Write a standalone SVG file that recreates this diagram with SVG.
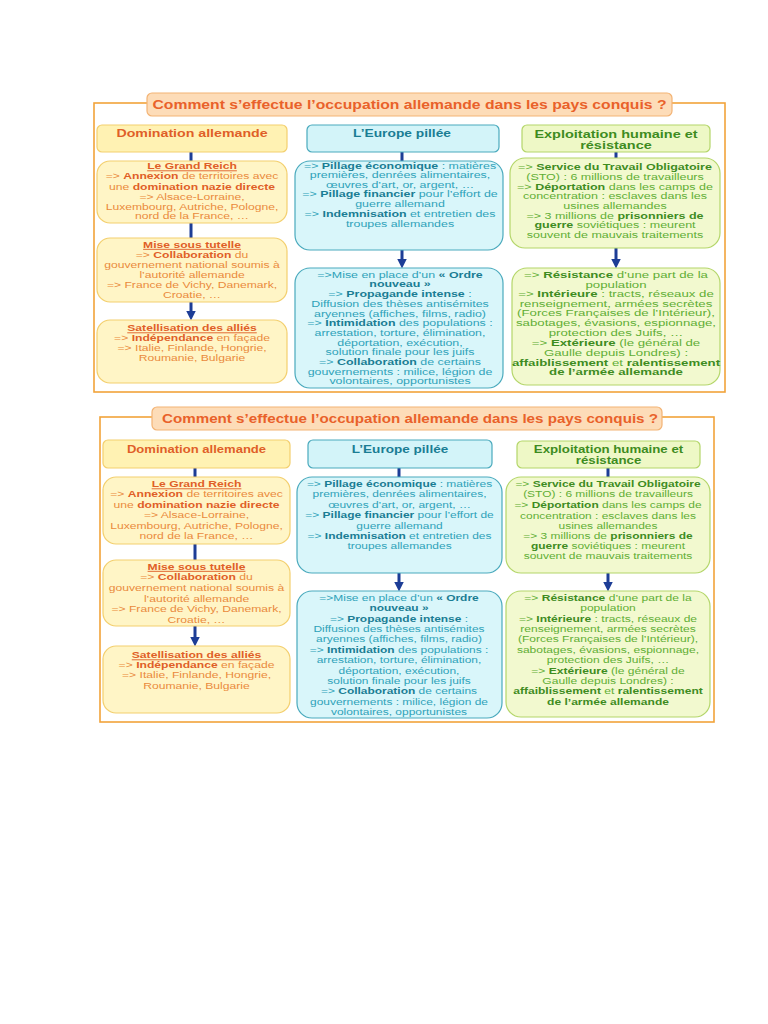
<svg xmlns="http://www.w3.org/2000/svg" width="768" height="1024" viewBox="0 0 768 1024">
<defs>
<marker id="ah" viewBox="0 0 10 10" refX="0.5" refY="5" markerWidth="10" markerHeight="10" markerUnits="userSpaceOnUse" orient="auto">
<path d="M0,0 L10,5 L0,10 z" fill="#1d3d96"/>
</marker>
<style>
text{font-family:"Liberation Sans",Arial,Helvetica,sans-serif;text-anchor:middle}
.title{font-size:12.5px;font-weight:bold;fill:#e9612a}
.hd{font-size:10.2px;font-weight:bold}
.bd{font-size:9.2px}
.b{font-weight:bold}
.u{text-decoration:underline}
.frame{fill:none;stroke:#f2a33a;stroke-width:1.6}
.tbox{fill:#fddcb8;stroke:#f3b374;stroke-width:1.2}
.yh{fill:#fff2b3;stroke:#f3cf6e;stroke-width:1.2}
.yc{fill:#fff5c6;stroke:#f3cf6e;stroke-width:1.2}
.ch{fill:#d3f4f9;stroke:#4aaabd;stroke-width:1.2}
.cc{fill:#d9f6fa;stroke:#4aaabd;stroke-width:1.2}
.gh{fill:#eef8c6;stroke:#b4d66a;stroke-width:1.2}
.gc{fill:#f2f9cf;stroke:#b4d66a;stroke-width:1.2}
.yt{fill:#ea8a3c}.yb{fill:#df5f28}
.ct{fill:#2ea2b9}.cb{fill:#1a7d94}
.gt{fill:#5fae34}.gb{fill:#3e8c1f}
.ln{stroke:#1d3d96;stroke-width:3;fill:none}
.ar{stroke:#1d3d96;stroke-width:3;fill:none;marker-end:url(#ah)}
</style>
</defs>
<rect width="768" height="1024" fill="#ffffff"/>

<!-- ===================== TOP DIAGRAM ===================== -->
<g id="top">
<rect class="frame" x="94" y="103" width="631" height="289"/>
<g id="t-title">
<rect class="tbox" x="147" y="93" width="525" height="23" rx="5"/>
<text class="title" x="409.5" y="109" textLength="514" lengthAdjust="spacingAndGlyphs">Comment s’effectue l’occupation allemande dans les pays conquis ?</text>
</g>
<g id="t-connectors">
<line class="ln" x1="191" y1="152" x2="191" y2="161"/>
<line class="ln" x1="191" y1="223" x2="191" y2="238"/>
<line class="ar" x1="191" y1="302" x2="191" y2="311"/>
<line class="ln" x1="402" y1="152" x2="402" y2="161"/>
<line class="ar" x1="402" y1="250" x2="402" y2="259"/>
<line class="ln" x1="616" y1="152" x2="616" y2="158"/>
<line class="ar" x1="616" y1="248" x2="616" y2="259"/>
</g>
<g id="t-dom">
<rect class="yh" x="97" y="125" width="190" height="27" rx="5"/>
<text class="hd yb" transform="translate(192,137) scale(1.39,1)" x="0" y="0">Domination allemande</text>
</g>
<g id="t-reich">
<rect class="yc" x="97" y="161" width="190" height="62" rx="13"/>
<g class="bd yt" transform="translate(192,0) scale(1.32,1)">
<text x="0" y="169.5" class="b u yb">Le Grand Reich</text>
<text x="0" y="179.5">=&gt; <tspan class="b yb">Annexion</tspan> de territoires avec</text>
<text x="0" y="190">une <tspan class="b yb">domination nazie directe</tspan></text>
<text x="0" y="200">=&gt; Alsace-Lorraine,</text>
<text x="0" y="210">Luxembourg, Autriche, Pologne,</text>
<text x="0" y="219.5">nord de la France, …</text>
</g>
</g>
<g id="t-tutelle">
<rect class="yc" x="97" y="238" width="190" height="64" rx="13"/>
<g class="bd yt" transform="translate(192,0) scale(1.32,1)">
<text x="0" y="248" class="b u yb">Mise sous tutelle</text>
<text x="0" y="258">=&gt; <tspan class="b yb">Collaboration</tspan> du</text>
<text x="0" y="268.5">gouvernement national soumis à</text>
<text x="0" y="278">l’autorité allemande</text>
<text x="0" y="288">=&gt; France de Vichy, Danemark,</text>
<text x="0" y="298">Croatie, …</text>
</g>
</g>
<g id="t-satel">
<rect class="yc" x="97" y="320" width="190" height="63" rx="13"/>
<g class="bd yt" transform="translate(192,0) scale(1.32,1)">
<text x="0" y="331.5" class="b u yb">Satellisation des alliés</text>
<text x="0" y="341.5">=&gt; <tspan class="b yb">Indépendance</tspan> en façade</text>
<text x="0" y="351.5">=&gt; Italie, Finlande, Hongrie,</text>
<text x="0" y="361">Roumanie, Bulgarie</text>
</g>
</g>
<g id="t-europe">
<rect class="ch" x="307" y="125" width="192" height="27" rx="5"/>
<text class="hd cb" transform="translate(402,137) scale(1.35,1)" x="0" y="0">L’Europe pillée</text>
</g>
<g id="t-pillage">
<rect class="cc" x="295" y="161" width="208" height="89" rx="15"/>
<g class="bd ct" transform="translate(400,0) scale(1.35,1)">
<text x="0" y="169">=&gt; <tspan class="b cb">Pillage économique</tspan> : matières</text>
<text x="0" y="178.5">premières, denrées alimentaires,</text>
<text x="0" y="188">œuvres d’art, or, argent, …</text>
<text x="0" y="197.5">=&gt; <tspan class="b cb">Pillage financier</tspan> pour l’effort de</text>
<text x="0" y="207.5">guerre allemand</text>
<text x="0" y="217">=&gt; <tspan class="b cb">Indemnisation</tspan> et entretien des</text>
<text x="0" y="227">troupes allemandes</text>
</g>
</g>
<g id="t-ordre">
<rect class="cc" x="295" y="268" width="208" height="120" rx="15"/>
<g class="bd ct" transform="translate(400,0) scale(1.35,1)">
<text x="0" y="278">=&gt;Mise en place d’un <tspan class="b cb">« Ordre</tspan></text>
<text x="0" y="287.5" class="b cb">nouveau »</text>
<text x="0" y="297.5">=&gt; <tspan class="b cb">Propagande intense</tspan> :</text>
<text x="0" y="307.5">Diffusion des thèses antisémites</text>
<text x="0" y="317">aryennes (affiches, films, radio)</text>
<text x="0" y="326.5">=&gt; <tspan class="b cb">Intimidation</tspan> des populations :</text>
<text x="0" y="336.5">arrestation, torture, élimination,</text>
<text x="0" y="346">déportation, exécution,</text>
<text x="0" y="355.5">solution finale pour les juifs</text>
<text x="0" y="365.5">=&gt; <tspan class="b cb">Collaboration</tspan> de certains</text>
<text x="0" y="375">gouvernements : milice, légion de</text>
<text x="0" y="384.5">volontaires, opportunistes</text>
</g>
</g>
<g id="t-exploit">
<rect class="gh" x="522" y="125" width="188" height="27" rx="5"/>
<g class="hd gb" transform="translate(616,0) scale(1.42,1)">
<text x="0" y="138.5">Exploitation humaine et</text>
<text x="0" y="149">résistance</text>
</g>
</g>
<g id="t-sto">
<rect class="gc" x="510" y="158" width="210" height="90" rx="15"/>
<g class="bd gt" transform="translate(615,0) scale(1.36,1)">
<text x="0" y="170">=&gt; <tspan class="b gb">Service du Travail Obligatoire</tspan></text>
<text x="0" y="180">(STO) : 6 millions de travailleurs</text>
<text x="0" y="190">=&gt; <tspan class="b gb">Déportation</tspan> dans les camps de</text>
<text x="0" y="199">concentration : esclaves dans les</text>
<text x="0" y="209">usines allemandes</text>
<text x="0" y="219">=&gt; 3 millions de <tspan class="b gb">prisonniers de</tspan></text>
<text x="0" y="228"><tspan class="b gb">guerre</tspan> soviétiques : meurent</text>
<text x="0" y="238">souvent de mauvais traitements</text>
</g>
</g>
<g id="t-resist">
<rect class="gc" x="512" y="268" width="208" height="117" rx="15"/>
<g class="bd gt" transform="translate(616,0) scale(1.44,1)">
<text x="0" y="278">=&gt; <tspan class="b gb">Résistance</tspan> d’une part de la</text>
<text x="0" y="288">population</text>
<text x="0" y="297.5">=&gt; <tspan class="b gb">Intérieure</tspan> : tracts, réseaux de</text>
<text x="0" y="307">renseignement, armées secrètes</text>
<text x="0" y="316.5">(Forces Françaises de l’Intérieur),</text>
<text x="0" y="326.5">sabotages, évasions, espionnage,</text>
<text x="0" y="336.5">protection des Juifs, …</text>
<text x="0" y="346">=&gt; <tspan class="b gb">Extérieure</tspan> (le général de</text>
<text x="0" y="356">Gaulle depuis Londres) :</text>
<text x="0" y="366"><tspan class="b gb">affaiblissement</tspan> et <tspan class="b gb">ralentissement</tspan></text>
<text x="0" y="375.5" class="b gb">de l’armée allemande</text>
</g>
</g>
</g>

<!-- ===================== BOTTOM DIAGRAM ===================== -->
<g id="bottom">
<rect class="frame" x="100" y="417" width="614" height="305"/>
<g id="b-title">
<rect class="tbox" x="152" y="407" width="510" height="23" rx="5"/>
<text class="title" x="410" y="422.5" textLength="496" lengthAdjust="spacingAndGlyphs">Comment s’effectue l’occupation allemande dans les pays conquis ?</text>
</g>
<g id="b-connectors">
<line class="ln" x1="195" y1="468" x2="195" y2="477"/>
<line class="ln" x1="195" y1="544" x2="195" y2="560"/>
<line class="ar" x1="195" y1="626" x2="195" y2="637"/>
<line class="ln" x1="399" y1="468" x2="399" y2="477"/>
<line class="ar" x1="399" y1="573" x2="399" y2="582"/>
<line class="ln" x1="608" y1="468" x2="608" y2="477"/>
<line class="ar" x1="608" y1="573" x2="608" y2="582"/>
</g>
<g id="b-dom">
<rect class="yh" x="103" y="440" width="187" height="28" rx="5"/>
<text class="hd yb" transform="translate(196.5,452.5) scale(1.28,1)" x="0" y="0">Domination allemande</text>
</g>
<g id="b-reich">
<rect class="yc" x="103" y="477" width="187" height="67" rx="13"/>
<g class="bd yt" transform="translate(196.5,0) scale(1.32,1)">
<text x="0" y="487.5" class="b u yb">Le Grand Reich</text>
<text x="0" y="497.5">=&gt; <tspan class="b yb">Annexion</tspan> de territoires avec</text>
<text x="0" y="508.5">une <tspan class="b yb">domination nazie directe</tspan></text>
<text x="0" y="518.5">=&gt; Alsace-Lorraine,</text>
<text x="0" y="529">Luxembourg, Autriche, Pologne,</text>
<text x="0" y="539">nord de la France, …</text>
</g>
</g>
<g id="b-tutelle">
<rect class="yc" x="103" y="560" width="187" height="66" rx="13"/>
<g class="bd yt" transform="translate(196.5,0) scale(1.32,1)">
<text x="0" y="570" class="b u yb">Mise sous tutelle</text>
<text x="0" y="580.5">=&gt; <tspan class="b yb">Collaboration</tspan> du</text>
<text x="0" y="591.5">gouvernement national soumis à</text>
<text x="0" y="602">l’autorité allemande</text>
<text x="0" y="612.5">=&gt; France de Vichy, Danemark,</text>
<text x="0" y="623">Croatie, …</text>
</g>
</g>
<g id="b-satel">
<rect class="yc" x="103" y="646" width="187" height="67" rx="13"/>
<g class="bd yt" transform="translate(196.5,0) scale(1.32,1)">
<text x="0" y="658.5" class="b u yb">Satellisation des alliés</text>
<text x="0" y="668.5">=&gt; <tspan class="b yb">Indépendance</tspan> en façade</text>
<text x="0" y="678.5">=&gt; Italie, Finlande, Hongrie,</text>
<text x="0" y="689">Roumanie, Bulgarie</text>
</g>
</g>
<g id="b-europe">
<rect class="ch" x="308" y="440" width="184" height="28" rx="5"/>
<text class="hd cb" transform="translate(400,452.5) scale(1.33,1)" x="0" y="0">L’Europe pillée</text>
</g>
<g id="b-pillage">
<rect class="cc" x="297" y="477" width="205" height="96" rx="15"/>
<g class="bd ct" transform="translate(399.5,0) scale(1.3,1)">
<text x="0" y="487.5">=&gt; <tspan class="b cb">Pillage économique</tspan> : matières</text>
<text x="0" y="497.5">premières, denrées alimentaires,</text>
<text x="0" y="508.5">œuvres d’art, or, argent, …</text>
<text x="0" y="518.5">=&gt; <tspan class="b cb">Pillage financier</tspan> pour l’effort de</text>
<text x="0" y="529">guerre allemand</text>
<text x="0" y="539">=&gt; <tspan class="b cb">Indemnisation</tspan> et entretien des</text>
<text x="0" y="549">troupes allemandes</text>
</g>
</g>
<g id="b-ordre">
<rect class="cc" x="297" y="591" width="205" height="127" rx="15"/>
<g class="bd ct" transform="translate(399,0) scale(1.3,1)">
<text x="0" y="601.5">=&gt;Mise en place d’un <tspan class="b cb">« Ordre</tspan></text>
<text x="0" y="611.5" class="b cb">nouveau »</text>
<text x="0" y="622">=&gt; <tspan class="b cb">Propagande intense</tspan> :</text>
<text x="0" y="632.5">Diffusion des thèses antisémites</text>
<text x="0" y="642.5">aryennes (affiches, films, radio)</text>
<text x="0" y="653">=&gt; <tspan class="b cb">Intimidation</tspan> des populations :</text>
<text x="0" y="663">arrestation, torture, élimination,</text>
<text x="0" y="674">déportation, exécution,</text>
<text x="0" y="684">solution finale pour les juifs</text>
<text x="0" y="694">=&gt; <tspan class="b cb">Collaboration</tspan> de certains</text>
<text x="0" y="705">gouvernements : milice, légion de</text>
<text x="0" y="715">volontaires, opportunistes</text>
</g>
</g>
<g id="b-exploit">
<rect class="gh" x="517" y="441" width="183" height="27" rx="5"/>
<g class="hd gb" transform="translate(608.5,0) scale(1.3,1)">
<text x="0" y="453.5">Exploitation humaine et</text>
<text x="0" y="464.5">résistance</text>
</g>
</g>
<g id="b-sto">
<rect class="gc" x="506" y="477" width="204" height="96" rx="15"/>
<g class="bd gt" transform="translate(608,0) scale(1.3,1)">
<text x="0" y="487.5">=&gt; <tspan class="b gb">Service du Travail Obligatoire</tspan></text>
<text x="0" y="497.5">(STO) : 6 millions de travailleurs</text>
<text x="0" y="508.5">=&gt; <tspan class="b gb">Déportation</tspan> dans les camps de</text>
<text x="0" y="519">concentration : esclaves dans les</text>
<text x="0" y="529">usines allemandes</text>
<text x="0" y="539">=&gt; 3 millions de <tspan class="b gb">prisonniers de</tspan></text>
<text x="0" y="549.5"><tspan class="b gb">guerre</tspan> soviétiques : meurent</text>
<text x="0" y="559.5">souvent de mauvais traitements</text>
</g>
</g>
<g id="b-resist">
<rect class="gc" x="506" y="591" width="204" height="126" rx="15"/>
<g class="bd gt" transform="translate(608,0) scale(1.31,1)">
<text x="0" y="601.5">=&gt; <tspan class="b gb">Résistance</tspan> d’une part de la</text>
<text x="0" y="611.5">population</text>
<text x="0" y="622">=&gt; <tspan class="b gb">Intérieure</tspan> : tracts, réseaux de</text>
<text x="0" y="632.5">renseignement, armées secrètes</text>
<text x="0" y="642.5">(Forces Françaises de l’Intérieur),</text>
<text x="0" y="653">sabotages, évasions, espionnage,</text>
<text x="0" y="663">protection des Juifs, …</text>
<text x="0" y="674">=&gt; <tspan class="b gb">Extérieure</tspan> (le général de</text>
<text x="0" y="684">Gaulle depuis Londres) :</text>
<text x="0" y="694"><tspan class="b gb">affaiblissement</tspan> et <tspan class="b gb">ralentissement</tspan></text>
<text x="0" y="705" class="b gb">de l’armée allemande</text>
</g>
</g>
</g>
</svg>
